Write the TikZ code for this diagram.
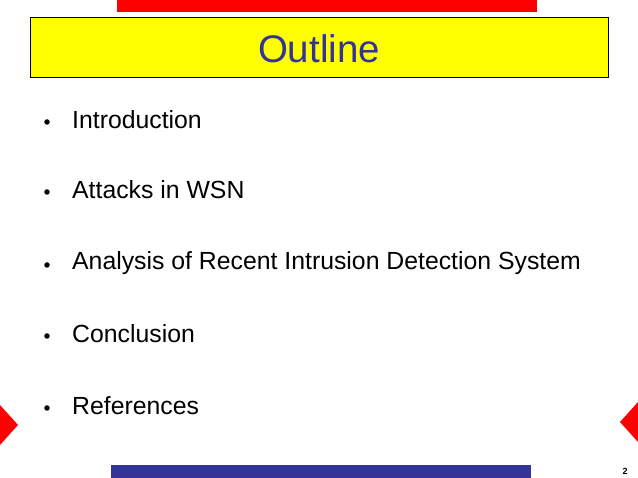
\documentclass[tikz,border=0pt]{standalone}
\usepackage{fontspec}
\setmainfont{Liberation Sans}
\definecolor{navy}{HTML}{333399}
\definecolor{rd}{HTML}{FF0000}
\definecolor{yl}{HTML}{FFFF00}
\begin{document}
\begin{tikzpicture}[x=1pt,y=-1pt,
  item/.style={anchor=west,font=\fontsize{24.8}{28}\selectfont,inner sep=0pt},
  dot/.style={circle,fill=black,inner sep=0pt,minimum size=5.5pt}]
\useasboundingbox (0,0) rectangle (638,478);
\fill[rd] (117,0) rectangle (537,12);
\draw[fill=yl,line width=1pt] (30,18) rectangle (608,78);
\node[navy,font=\fontsize{38.5}{42}\selectfont] (title) at (319,49) {Outline};
\foreach \t/\y/\n in {Introduction/120/a,Attacks in WSN/190/b,Analysis of Recent Intrusion Detection System/263/c,Conclusion/334/d,References/406/e}{
  \node[dot] (b\n) at (47,\y+2) {};
  \node[item] (t\n) at (72,\y) {\t};
}
\fill[rd] (0,405) -- (18,425) -- (0,445) -- cycle;
\fill[rd] (638,402) -- (620,422) -- (638,442) -- cycle;
\fill[navy] (111,465) rectangle (531,478);
\node[font=\bfseries\fontsize{9}{10}\selectfont] (pg) at (625,471) {2};
\end{tikzpicture}
\end{document}
